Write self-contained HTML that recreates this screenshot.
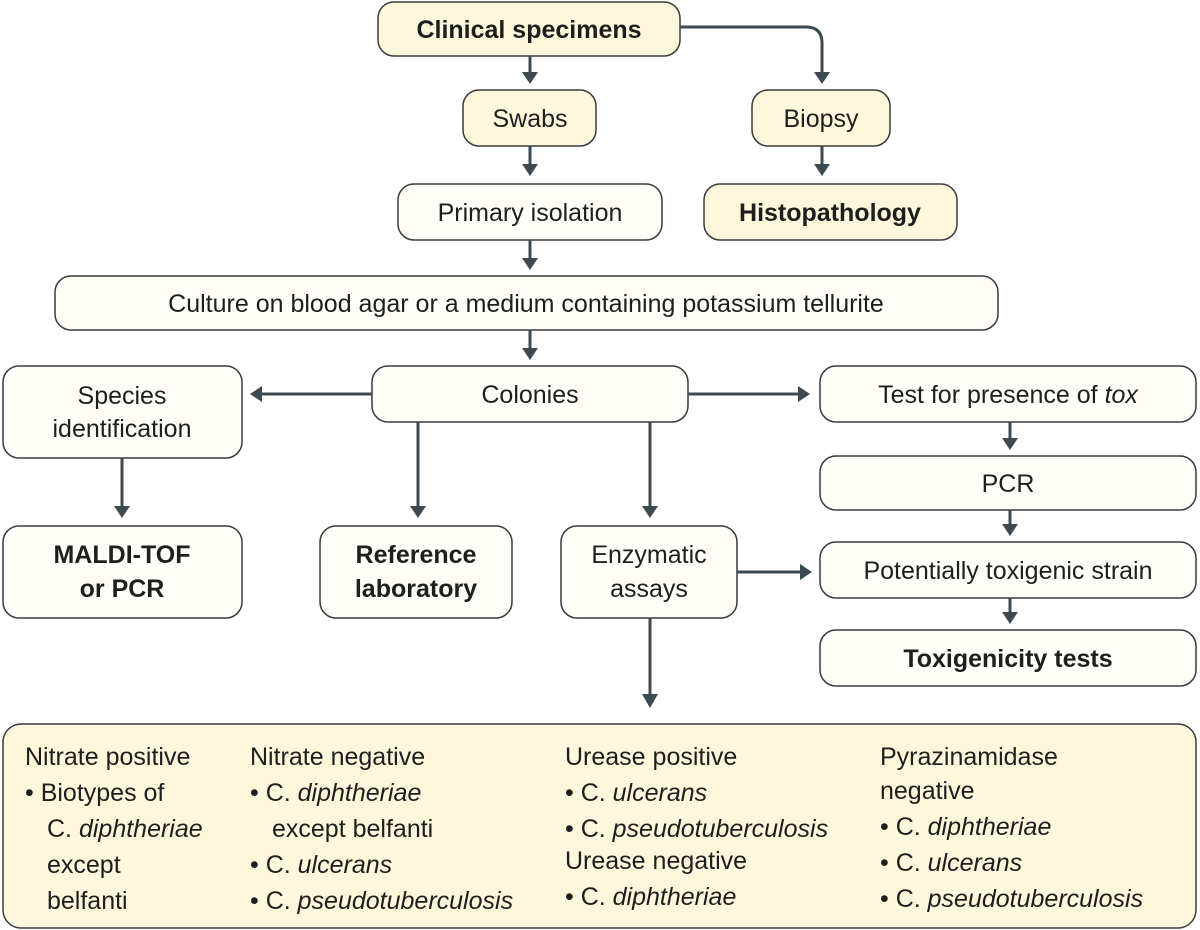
<!DOCTYPE html>
<html><head><meta charset="utf-8"><style>
body{margin:0;background:#fff}
svg{display:block}
text{font-family:"Liberation Sans",sans-serif;font-size:25px;fill:#1e1e1e}
.b{font-weight:bold}
.y{fill:#fdf7dc;stroke:#3a3a3a;stroke-width:1.5}
.w{fill:#fffdf8;stroke:#3a3a3a;stroke-width:1.5}
.l{stroke:#3d4a52;stroke-width:3;fill:none}
.a{fill:#3d4a52}
</style></head><body>
<svg width="1200" height="930" viewBox="0 0 1200 930">
<defs><marker id="m" markerWidth="8" markerHeight="8" refX="5" refY="4" orient="auto" markerUnits="userSpaceOnUse"><path d="M0,0 L0,0" /></marker></defs>
<!-- boxes -->
<rect class="y" x="378" y="2" width="302" height="54" rx="16"/>
<rect class="y" x="463" y="90" width="133" height="56" rx="16"/>
<rect class="y" x="752" y="90" width="138" height="56" rx="16"/>
<rect class="w" x="398" y="184" width="264" height="56" rx="16"/>
<rect class="y" x="704" y="184" width="253" height="56" rx="16"/>
<rect class="w" x="55" y="276" width="943" height="54" rx="16"/>
<rect class="w" x="3" y="366" width="239" height="92" rx="16"/>
<rect class="w" x="372" y="366" width="316" height="56" rx="16"/>
<rect class="w" x="820" y="366" width="376" height="56" rx="16"/>
<rect class="w" x="820" y="456" width="376" height="54" rx="16"/>
<rect class="w" x="3" y="526" width="239" height="92" rx="16"/>
<rect class="w" x="320" y="526" width="192" height="92" rx="16"/>
<rect class="w" x="561" y="526" width="176" height="92" rx="16"/>
<rect class="w" x="820" y="542" width="376" height="56" rx="16"/>
<rect class="w" x="820" y="630" width="376" height="56" rx="16"/>
<rect class="y" x="3" y="724" width="1193" height="204" rx="18"/>
<!-- lines -->
<g class="l">
<path d="M530 56V74"/><path d="M680 27H806Q822 27 822 43V74"/>
<path d="M530 146V166"/><path d="M822 146V166"/>
<path d="M530 240V260"/><path d="M530 330V350"/>
<path d="M372 394H260"/><path d="M688 394H800"/>
<path d="M122 458V508"/><path d="M418 422V508"/><path d="M650 422V508"/>
<path d="M737 572H802"/>
<path d="M1010 422V440"/><path d="M1010 510V526"/><path d="M1010 598V614"/>
<path d="M650 618V696"/>
</g>
<g class="a">
<path d="M522 72H538L530 84Z"/><path d="M814 72H830L822 84Z"/>
<path d="M522 164H538L530 176Z"/><path d="M814 164H830L822 176Z"/>
<path d="M522 258H538L530 270Z"/><path d="M522 348H538L530 360Z"/>
<path d="M262 386V402L250 394Z"/><path d="M798 386V402L810 394Z"/>
<path d="M114 506H130L122 518Z"/><path d="M410 506H426L418 518Z"/><path d="M642 506H658L650 518Z"/>
<path d="M800 564V580L812 572Z"/>
<path d="M1002 438H1018L1010 450Z"/><path d="M1002 524H1018L1010 536Z"/><path d="M1002 612H1018L1010 624Z"/>
<path d="M642 694H658L650 708Z"/>
</g>
<!-- labels -->
<g text-anchor="middle">
<text class="b" x="529" y="38">Clinical specimens</text>
<text x="530" y="127">Swabs</text>
<text x="821" y="127">Biopsy</text>
<text x="530" y="221">Primary isolation</text>
<text class="b" x="830" y="221">Histopathology</text>
<text x="526" y="312">Culture on blood agar or a medium containing potassium tellurite</text>
<text x="122" y="404">Species</text><text x="122" y="437">identification</text>
<text x="530" y="403">Colonies</text>
<text x="1008" y="403">Test for presence of <tspan font-style="italic">tox</tspan></text>
<text x="1008" y="492">PCR</text>
<text class="b" x="122" y="563">MALDI-TOF</text><text class="b" x="122" y="597">or PCR</text>
<text class="b" x="416" y="563">Reference</text><text class="b" x="416" y="597">laboratory</text>
<text x="649" y="563">Enzymatic</text><text x="649" y="597">assays</text>
<text x="1008" y="579">Potentially toxigenic strain</text>
<text class="b" x="1008" y="667">Toxigenicity tests</text>
</g>
<g>
<text x="25" y="765">Nitrate positive</text>
<text x="25" y="801">• Biotypes of</text>
<text x="47" y="837">C. <tspan font-style="italic">diphtheriae</tspan></text>
<text x="47" y="873">except</text>
<text x="47" y="909">belfanti</text>
<text x="250" y="765">Nitrate negative</text>
<text x="250" y="801">• C. <tspan font-style="italic">diphtheriae</tspan></text>
<text x="272" y="837">except belfanti</text>
<text x="250" y="873">• C. <tspan font-style="italic">ulcerans</tspan></text>
<text x="250" y="909">• C. <tspan font-style="italic">pseudotuberculosis</tspan></text>
<text x="565" y="765">Urease positive</text>
<text x="565" y="801">• C. <tspan font-style="italic">ulcerans</tspan></text>
<text x="565" y="837">• C. <tspan font-style="italic">pseudotuberculosis</tspan></text>
<text x="565" y="869">Urease negative</text>
<text x="565" y="905">• C. <tspan font-style="italic">diphtheriae</tspan></text>
<text x="880" y="765">Pyrazinamidase</text>
<text x="880" y="799">negative</text>
<text x="880" y="835">• C. <tspan font-style="italic">diphtheriae</tspan></text>
<text x="880" y="871">• C. <tspan font-style="italic">ulcerans</tspan></text>
<text x="880" y="907">• C. <tspan font-style="italic">pseudotuberculosis</tspan></text>
</g>
</svg>
</body></html>
